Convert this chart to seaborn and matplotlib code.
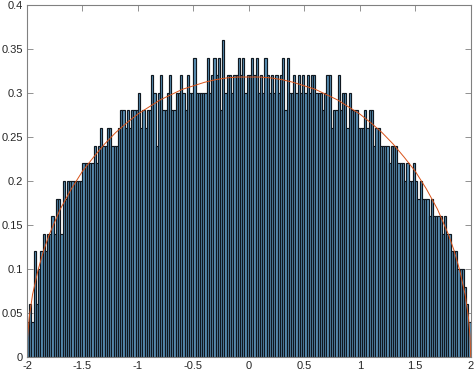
import numpy as np
import pandas as pd
import matplotlib
matplotlib.use("Agg")
import matplotlib.pyplot as plt
import seaborn as sns

# bar heights, 200 bins of width 0.02 from -2 to 2
heights_left = [
    0.04, 0.06, 0.04, 0.12, 0.06, 0.10, 0.12, 0.14, 0.12, 0.14,
    0.14, 0.16, 0.14, 0.18, 0.18, 0.14, 0.20, 0.18, 0.20, 0.20,
    0.20, 0.20, 0.20, 0.20, 0.20, 0.22, 0.22, 0.22, 0.22, 0.22,
    0.24, 0.22, 0.24, 0.26, 0.24, 0.24, 0.26, 0.26, 0.24, 0.24,
    0.24, 0.26, 0.28, 0.28, 0.26, 0.28, 0.26, 0.28, 0.28, 0.28,
    0.30, 0.26, 0.28, 0.26, 0.28, 0.28, 0.32, 0.30, 0.24, 0.30,
]
heights_mid = [
    0.32, 0.28, 0.28, 0.30, 0.32, 0.28, 0.28, 0.30, 0.30, 0.32,
    0.30, 0.28, 0.32, 0.30, 0.30, 0.34, 0.30, 0.30, 0.30, 0.30,
    0.30, 0.34, 0.30, 0.32, 0.34, 0.32, 0.34, 0.28, 0.36, 0.30,
    0.32, 0.32, 0.30, 0.32, 0.32, 0.34, 0.32, 0.34, 0.30, 0.32,
    0.32, 0.34, 0.32, 0.34, 0.30, 0.32, 0.30, 0.34, 0.32, 0.30,
    0.32, 0.30, 0.32, 0.30, 0.32, 0.34, 0.28, 0.34, 0.30, 0.30,
    0.32, 0.30, 0.32, 0.30,
]
heights_right = [
    0.32, 0.30, 0.32, 0.30, 0.32, 0.32, 0.30, 0.30, 0.30, 0.28,
    0.30, 0.32, 0.32, 0.26, 0.28, 0.28, 0.32, 0.28, 0.30, 0.30,
    0.26, 0.30, 0.28, 0.28, 0.28, 0.26, 0.26, 0.26, 0.28, 0.26,
    0.28, 0.28, 0.24, 0.26, 0.26, 0.24, 0.24, 0.24, 0.24, 0.22,
    0.24, 0.24, 0.24, 0.22, 0.22, 0.22, 0.20, 0.22, 0.20, 0.20,
    0.22, 0.20, 0.18, 0.20, 0.18, 0.18, 0.18, 0.16, 0.18, 0.16,
    0.16, 0.16, 0.16, 0.14, 0.16, 0.14, 0.14, 0.12, 0.12, 0.12,
    0.10, 0.10, 0.10, 0.08, 0.06, 0.04,
]
heights = heights_left + heights_mid + heights_right

# semicircle curve
curve_x = [-2.0, -1.995, -1.98, -1.95, -1.9, -1.85, -1.8, -1.7, -1.6, -1.5,
           -1.4, -1.3, -1.2, -1.1, -1.0, -0.9, -0.8, -0.7, -0.6, -0.5,
           -0.4, -0.3, -0.2, -0.1, 0.0, 0.1, 0.2, 0.3, 0.4, 0.5,
           0.6, 0.7, 0.8, 0.9, 1.0, 1.1, 1.2, 1.3, 1.4, 1.5,
           1.6, 1.7, 1.8, 1.85, 1.9, 1.95, 1.98, 1.995, 2.0]
curve_y = [0.0, 0.022, 0.045, 0.071, 0.099, 0.121, 0.139, 0.168, 0.191, 0.211,
           0.227, 0.242, 0.255, 0.266, 0.276, 0.284, 0.292, 0.298, 0.304, 0.308,
           0.312, 0.315, 0.317, 0.318, 0.318, 0.318, 0.317, 0.315, 0.312, 0.308,
           0.304, 0.298, 0.292, 0.284, 0.276, 0.266, 0.255, 0.242, 0.227, 0.211,
           0.191, 0.168, 0.139, 0.121, 0.099, 0.071, 0.045, 0.022, 0.0]

x_ticks = [-2, -1.5, -1, -0.5, 0, 0.5, 1, 1.5, 2]
x_tick_labels = ["-2", "-1.5", "-1", "-0.5", "0", "0.5", "1", "1.5", "2"]
y_ticks = [0, 0.05, 0.1, 0.15, 0.2, 0.25, 0.3, 0.35, 0.4]
y_tick_labels = ["0", "0.05", "0.1", "0.15", "0.2", "0.25", "0.3", "0.35", "0.4"]

sns.set_theme(style="white")
plt.rcParams["font.family"] = ["Liberation Sans", "DejaVu Sans"]

n_bins = len(heights)
edges = np.linspace(-2, 2, n_bins + 1)
df = pd.DataFrame({"x": (edges[:-1] + edges[1:]) / 2, "h": heights})

fig = plt.figure(figsize=(4.74, 3.73), dpi=100)
ax = fig.add_axes([0.057, 0.043, 0.936, 0.944])

# muted MATLAB-blue face with near-black edges
sns.histplot(data=df, x="x", weights="h", bins=n_bins, binrange=(-2, 2),
             stat="count", color="#5b93b8", alpha=1.0,
             edgecolor="#101820", linewidth=0.85, ax=ax)
sns.lineplot(x=curve_x, y=curve_y, color="#D95319", linewidth=0.7, ax=ax)

ax.set_xlim(-2, 2)
ax.set_ylim(0, 0.4)
ax.set_xticks(x_ticks)
ax.set_xticklabels(x_tick_labels)
ax.set_yticks(y_ticks)
ax.set_yticklabels(y_tick_labels)
ax.set_xlabel("")
ax.set_ylabel("")

ax.tick_params(direction="in", length=4, width=0.6, colors="#808080",
               labelcolor="#262626", labelsize=8, pad=3,
               top=True, right=True, bottom=True, left=True)
for s in ax.spines.values():
    s.set_color("#808080")
    s.set_linewidth(0.8)
    s.set_visible(True)

fig.savefig("out.png", dpi=100)
